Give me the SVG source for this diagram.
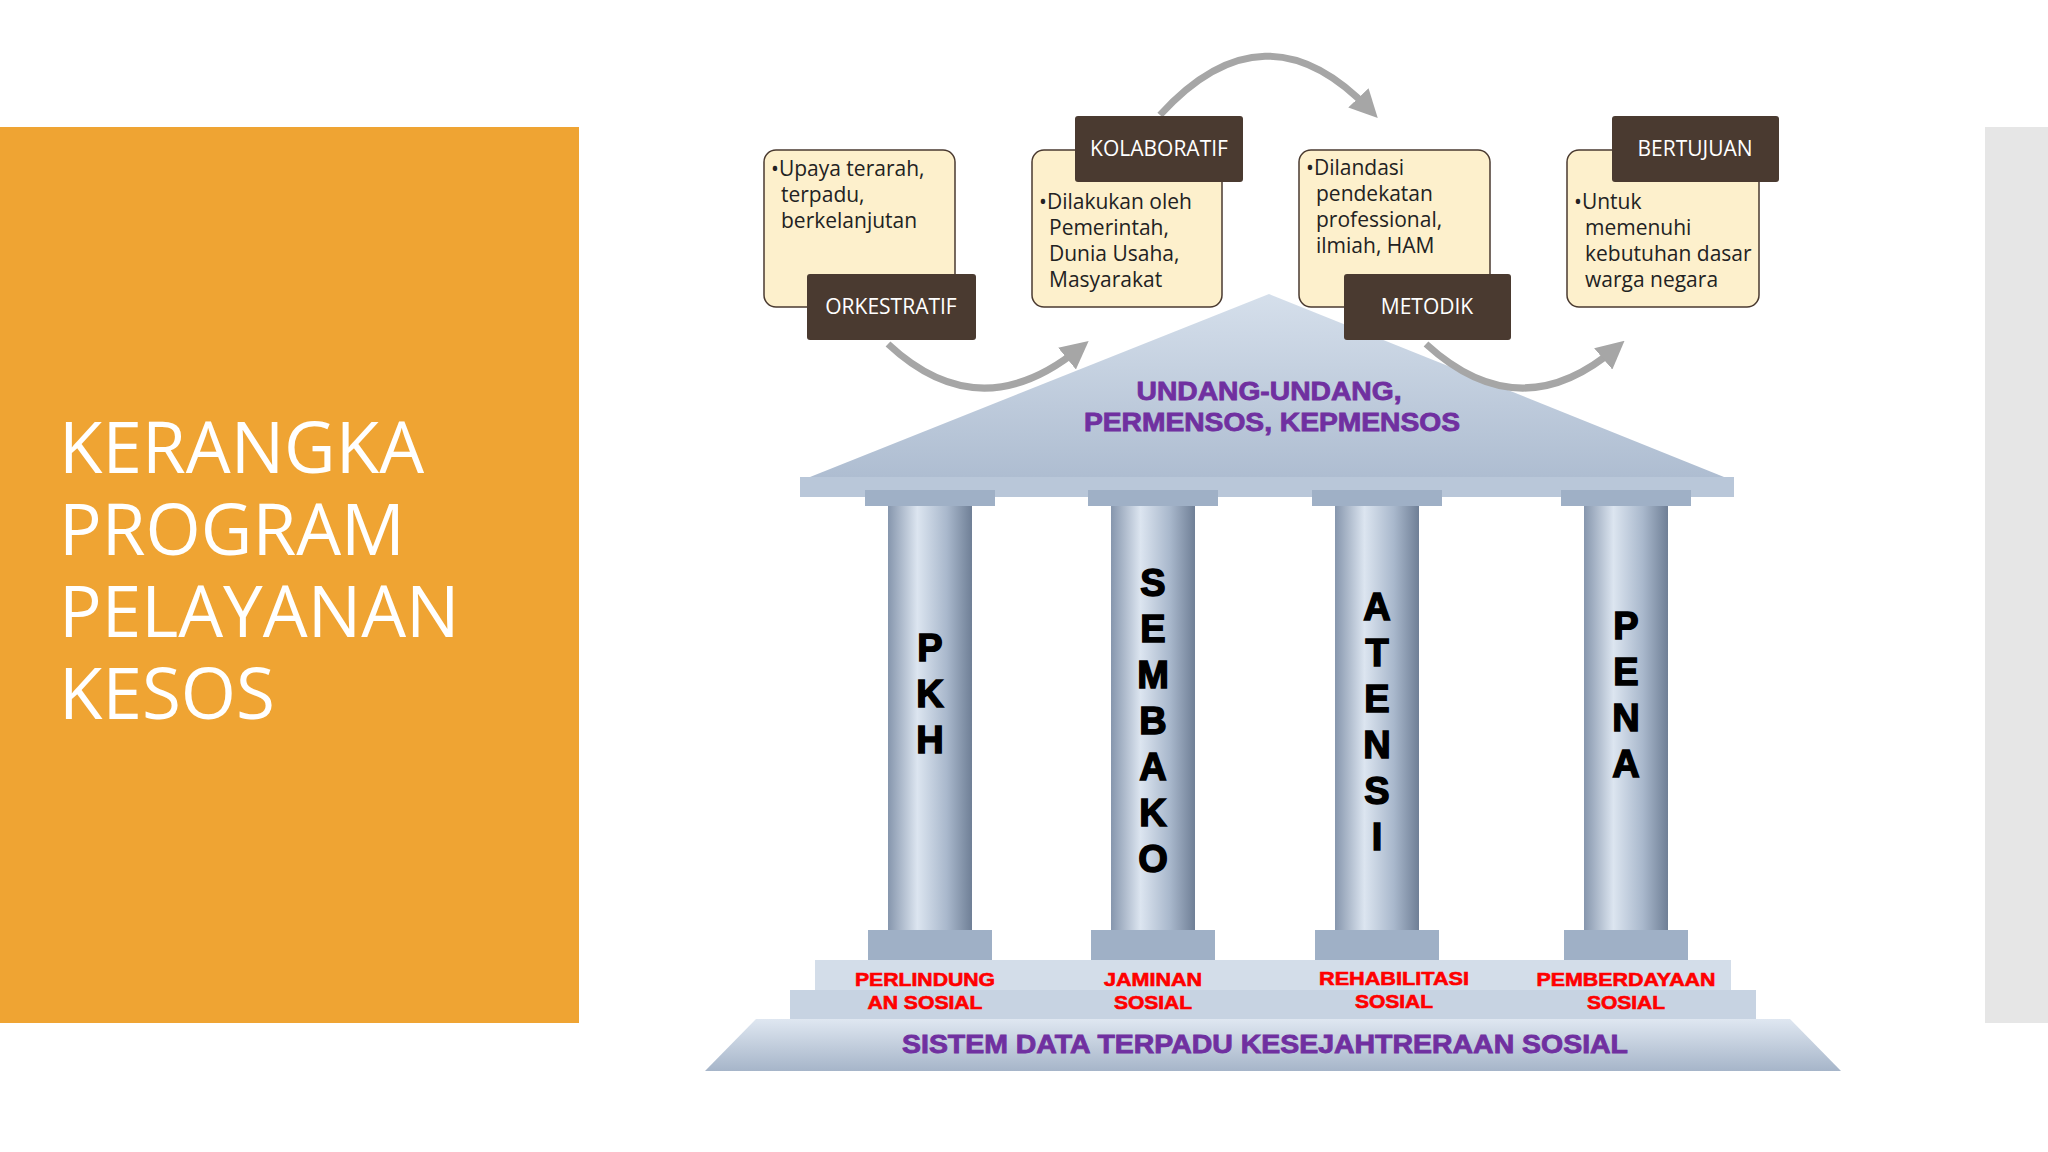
<svg xmlns="http://www.w3.org/2000/svg" width="2048" height="1152" viewBox="0 0 2048 1152">
<defs>
<linearGradient id="col" x1="0" x2="1" y1="0" y2="0"><stop offset="0" stop-color="#8696ad"/><stop offset="0.35" stop-color="#dce5f0"/><stop offset="0.7" stop-color="#a9b8cc"/><stop offset="1" stop-color="#6f7f96"/></linearGradient>
<linearGradient id="roof" x1="0" x2="0" y1="0" y2="1"><stop offset="0" stop-color="#d5dfeb"/><stop offset="1" stop-color="#aebdd1"/></linearGradient>
<linearGradient id="base" x1="0" x2="0" y1="0" y2="1"><stop offset="0" stop-color="#dfe7f1"/><stop offset="1" stop-color="#a6b5c9"/></linearGradient>
<marker id="ah" viewBox="0 0 10 10" refX="6" refY="5" markerWidth="4" markerHeight="4" orient="auto"><path d="M0,0 L10,5 L0,10 z" fill="#a6a6a6"/></marker>
<style>
.t{font-family:"Open Sans","Liberation Sans",sans-serif}
.box{fill:#fdf0cc;stroke:#4a3a30;stroke-width:1.5}
.lab{fill:#4a3a30}
.lt{font-family:"Open Sans","Liberation Sans",sans-serif;font-size:21px;fill:#fff;text-anchor:middle}
.bt{font-family:"Open Sans","Liberation Sans",sans-serif;font-size:21px;fill:#222}
.pu{font-family:"Liberation Sans",sans-serif;font-weight:bold;fill:#7030a0;stroke:#7030a0;stroke-width:0.8;font-size:25px;text-anchor:middle}
.rd{font-family:"Liberation Sans",sans-serif;font-weight:bold;fill:#ff0000;stroke:#ff0000;stroke-width:0.6;font-size:18px;text-anchor:middle}
.vl{font-family:"Liberation Sans",sans-serif;font-weight:900;fill:#000;stroke:#000;stroke-width:1.5;font-size:38px;text-anchor:middle}
.arr{fill:none;stroke:#a6a6a6;stroke-width:7;marker-end:url(#ah)}
</style>
</defs>
<rect width="2048" height="1152" fill="#fff"/>
<rect x="0" y="127" width="579" height="896" fill="#efa433"/>
<rect x="1985" y="127" width="63" height="896" fill="#e6e6e6"/>
<g id="title" class="t" fill="#fff" font-size="71">
<text x="59" y="473">KERANGKA</text><text x="59" y="555">PROGRAM</text><text x="59" y="637">PELAYANAN</text><text x="59" y="719">KESOS</text>
</g>
<g id="temple">
<polygon points="705,1071 1841,1071 1790,1019 756,1019" fill="url(#base)"/>
<rect x="790" y="990" width="966" height="29" fill="#c7d3e2"/>
<rect x="815" y="960" width="916" height="30" fill="#d3dde9"/>
<rect x="800" y="477" width="934" height="20" fill="#b9c7d9"/>
<polygon points="810,477 1724,477 1269,294" fill="url(#roof)"/>
<g fill="url(#col)">
<rect x="888" y="497" width="84" height="445"/><rect x="1111" y="497" width="84" height="445"/><rect x="1335" y="497" width="84" height="445"/><rect x="1584" y="497" width="84" height="445"/>
</g>
<g fill="#9fb0c6">
<rect x="865" y="490" width="130" height="16"/><rect x="1088" y="490" width="130" height="16"/><rect x="1312" y="490" width="130" height="16"/><rect x="1561" y="490" width="130" height="16"/>
<rect x="868" y="930" width="124" height="30"/><rect x="1091" y="930" width="124" height="30"/><rect x="1315" y="930" width="124" height="30"/><rect x="1564" y="930" width="124" height="30"/>
</g>
</g>
<g id="roof-text"><text class="pu" x="1269" y="400" textLength="265" lengthAdjust="spacingAndGlyphs">UNDANG-UNDANG,</text><text class="pu" x="1272" y="431" textLength="376" lengthAdjust="spacingAndGlyphs">PERMENSOS, KEPMENSOS</text></g>
<g id="pkh" class="vl"><text x="930" y="661">P</text><text x="930" y="707">K</text><text x="930" y="753">H</text></g>
<g id="sembako" class="vl"><text x="1153" y="596">S</text><text x="1153" y="642">E</text><text x="1153" y="688">M</text><text x="1153" y="734">B</text><text x="1153" y="780">A</text><text x="1153" y="826">K</text><text x="1153" y="872">O</text></g>
<g id="atensi" class="vl"><text x="1377" y="620">A</text><text x="1377" y="666">T</text><text x="1377" y="712">E</text><text x="1377" y="758">N</text><text x="1377" y="804">S</text><text x="1377" y="850">I</text></g>
<g id="pena" class="vl"><text x="1626" y="639">P</text><text x="1626" y="685">E</text><text x="1626" y="731">N</text><text x="1626" y="777">A</text></g>
<g id="labels-red">
<text class="rd" x="925" y="986" textLength="140" lengthAdjust="spacingAndGlyphs">PERLINDUNG</text><text class="rd" x="925" y="1009" textLength="115" lengthAdjust="spacingAndGlyphs">AN SOSIAL</text>
<text class="rd" x="1153" y="986" textLength="98" lengthAdjust="spacingAndGlyphs">JAMINAN</text><text class="rd" x="1153" y="1009" textLength="78" lengthAdjust="spacingAndGlyphs">SOSIAL</text>
<text class="rd" x="1394" y="985" textLength="150" lengthAdjust="spacingAndGlyphs">REHABILITASI</text><text class="rd" x="1394" y="1008" textLength="78" lengthAdjust="spacingAndGlyphs">SOSIAL</text>
<text class="rd" x="1626" y="986" textLength="179" lengthAdjust="spacingAndGlyphs">PEMBERDAYAAN</text><text class="rd" x="1626" y="1009" textLength="78" lengthAdjust="spacingAndGlyphs">SOSIAL</text>
</g>
<g id="base-text"><text class="pu" x="1265" y="1053" textLength="726" lengthAdjust="spacingAndGlyphs">SISTEM DATA TERPADU KESEJAHTRERAAN SOSIAL</text></g>
<g id="connectors">
<path class="arr" d="M888,344 Q980,430 1080,348"/>
<path class="arr" d="M1160,115 Q1265,0 1370,110"/>
<path class="arr" d="M1426,344 Q1520,430 1616,348"/>
</g>
<g id="box1"><rect class="box" x="764" y="150" width="191" height="157" rx="12"/>
<text class="bt" x="771" y="176">•Upaya terarah,</text><text class="bt" x="781" y="202">terpadu,</text><text class="bt" x="781" y="228">berkelanjutan</text></g>
<g id="box2"><rect class="box" x="1032" y="150" width="190" height="157" rx="12"/>
<text class="bt" x="1039" y="209">•Dilakukan oleh</text><text class="bt" x="1049" y="235">Pemerintah,</text><text class="bt" x="1049" y="261">Dunia Usaha,</text><text class="bt" x="1049" y="287">Masyarakat</text></g>
<g id="box3"><rect class="box" x="1299" y="150" width="191" height="157" rx="12"/>
<text class="bt" x="1306" y="175">•Dilandasi</text><text class="bt" x="1316" y="201">pendekatan</text><text class="bt" x="1316" y="227">professional,</text><text class="bt" x="1316" y="253">ilmiah, HAM</text></g>
<g id="box4"><rect class="box" x="1567" y="150" width="192" height="157" rx="12"/>
<text class="bt" x="1574" y="209">•Untuk</text><text class="bt" x="1585" y="235">memenuhi</text><text class="bt" x="1585" y="261">kebutuhan dasar</text><text class="bt" x="1585" y="287">warga negara</text></g>
<g id="orkestratif"><rect class="lab" x="807" y="274" width="169" height="66" rx="3"/><text class="lt" x="891" y="314">ORKESTRATIF</text></g>
<g id="kolaboratif"><rect class="lab" x="1075" y="116" width="168" height="66" rx="3"/><text class="lt" x="1159" y="156">KOLABORATIF</text></g>
<g id="metodik"><rect class="lab" x="1344" y="274" width="167" height="66" rx="3"/><text class="lt" x="1427" y="314">METODIK</text></g>
<g id="bertujuan"><rect class="lab" x="1612" y="116" width="167" height="66" rx="3"/><text class="lt" x="1695" y="156">BERTUJUAN</text></g>
</svg>
